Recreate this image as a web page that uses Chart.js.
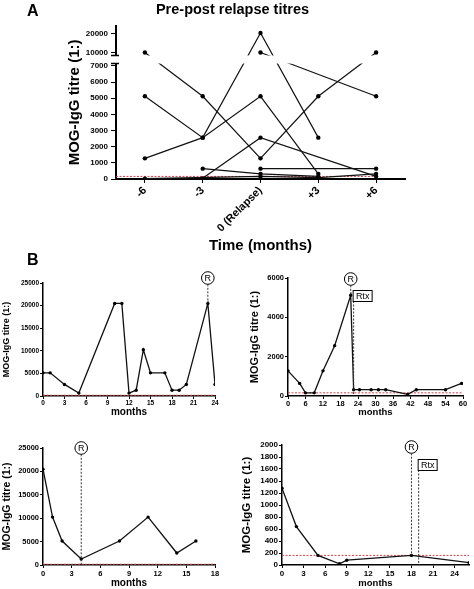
<!DOCTYPE html>
<html><head><meta charset="utf-8">
<script src="https://cdn.jsdelivr.net/npm/chart.js@4.4.1/dist/chart.umd.min.js"></script>
<style>
html,body{margin:0;padding:0;background:#fff;}
#wrap{position:relative;width:474px;height:589px;overflow:hidden;font-family:"Liberation Sans",Arial,sans-serif;}
canvas{position:absolute;}
.lab{position:absolute;font-weight:bold;font-size:16px;color:#000;line-height:1;}
</style></head><body>
<div id="wrap">
<canvas id="cA" width="474" height="255" style="left:0px;top:0px"></canvas>
<canvas id="cB1" width="237" height="167" style="left:0px;top:255px"></canvas>
<canvas id="cB2" width="237" height="167" style="left:237px;top:255px"></canvas>
<canvas id="cB3" width="237" height="167" style="left:0px;top:422px"></canvas>
<canvas id="cB4" width="237" height="167" style="left:237px;top:422px"></canvas>
<div class="lab" style="left:27px;top:3px">A</div>
<div class="lab" style="left:27px;top:252px">B</div>
</div>
<script>
// ---------- DATA ----------
const relapseMonths = ['-6', '-3', '0 (Relapse)', '+3', '+6'];
const titresP1 = [10240, 5120, 1280, 5120, 10240];
const titresP2 = [5120, 2560, 20480, 2560, null];
const titresP3 = [1280, 2560, 5120, 320, null];
const titresP4 = [null, null, 10240, null, 5120];
const titresP5 = [null, 40, 2560, null, 160];
const titresP6 = [null, 640, 320, 160, null];
const titresP7 = [null, null, 640, null, 640];
const titresP8 = [20, null, 160, 80, 320];
const yTicksA = [0, 1000, 2000, 3000, 4000, 5000, 6000, 7000, 10000, 20000];
const cutoffTitre = 160;

const case1Months = [0, 1, 3, 5, 10, 11, 12, 13, 14, 15, 17, 18, 19, 20, 23, 24];
const case1Titres = [5120, 5120, 2560, 640, 20480, 20480, 640, 1280, 10240, 5120, 5120, 1280, 1280, 2560, 20480, 2560];
const case2Months = [0, 4, 6, 9, 12, 16, 21.5, 22.5, 24.5, 28.5, 31, 33.5, 41, 44, 54, 59.5];
const case2Titres = [1280, 640, 160, 160, 1280, 2560, 5120, 320, 320, 320, 320, 320, 80, 320, 320, 640];
const case3Months = [0, 1, 2, 4, 8, 11, 14, 16];
const case3Titres = [20480, 10240, 5120, 1280, 5120, 10240, 2560, 5120];
const case4Months = [0, 2, 5, 8, 9, 18, 26];
const case4Titres = [1280, 640, 160, 20, 80, 160, 40];

const relapse1 = {month: 23, to: 20480};
const relapse2 = {month: 21.5, to: 5120};
const rtx2 = 22.5;
const relapse3 = {month: 4, to: 0};
const relapse4 = {month: 18, to: 160};
const rtx4 = 19;

// ---------- SETUP ----------
Chart.defaults.font.family = '"Liberation Sans", Arial, sans-serif';
Chart.defaults.color = '#000';

// broken axis transform for panel A (0-7000 linear, gap, 10000-20000 compressed)
function brk(v) { if (v == null) return null; return v <= 7000 ? v : 7805 + (v - 10000) * 0.1177; }

const decor = {
  id: 'decor',
  beforeDatasetsDraw(chart, args, o) {
    if (o.cutoff == null) return;
    const ctx = chart.ctx, ca = chart.chartArea, xs = chart.scales.x, ys = chart.scales.y;
    const y = ys.getPixelForValue(o.cutoff);
    const x2 = o.cutoffToLast ? xs.getPixelForValue(xs.max) : ca.right;
    ctx.save();
    ctx.strokeStyle = '#d2404f'; ctx.lineWidth = 1; ctx.setLineDash([2, 1.5]);
    ctx.beginPath(); ctx.moveTo(ca.left, y); ctx.lineTo(x2, y); ctx.stroke();
    ctx.restore();
  },
  afterDatasetsDraw(chart, args, o) {
    const ctx = chart.ctx, ca = chart.chartArea, xs = chart.scales.x, ys = chart.scales.y;
    ctx.save();
    if (o.breakBand) {
      const yTop = ys.getPixelForValue(o.breakBand[1]);
      const yBot = ys.getPixelForValue(o.breakBand[0]);
      ctx.fillStyle = '#fff';
      ctx.fillRect(ca.left - 3, yTop, ca.right - ca.left + 4, yBot - yTop);
      ctx.strokeStyle = '#000'; ctx.lineWidth = 1.5;
      ctx.beginPath();
      ctx.moveTo(ca.left - 5, yTop); ctx.lineTo(ca.left + 3, yTop);
      ctx.moveTo(ca.left - 5, yBot); ctx.lineTo(ca.left + 3, yBot);
      ctx.stroke();
    }
    if (o.relapse) {
      const x = xs.getPixelForValue(o.relapse.month);
      const cy = ca.top + o.circleDy, r = 6.3;
      const yEnd = ys.getPixelForValue(o.relapse.to);
      ctx.strokeStyle = '#333'; ctx.lineWidth = 1; ctx.setLineDash([2, 1.5]);
      ctx.beginPath(); ctx.moveTo(x, cy + r); ctx.lineTo(x, yEnd); ctx.stroke();
      ctx.setLineDash([]);
      ctx.fillStyle = '#fff'; ctx.strokeStyle = '#000';
      ctx.beginPath(); ctx.arc(x, cy, r, 0, Math.PI * 2); ctx.fill(); ctx.stroke();
      ctx.fillStyle = '#000'; ctx.font = '9px "Liberation Sans", Arial, sans-serif';
      ctx.textAlign = 'center'; ctx.textBaseline = 'middle';
      ctx.fillText('R', x, cy + 0.5);
    }
    if (o.rtx != null) {
      const x = xs.getPixelForValue(o.rtx);
      const top = ca.top + o.boxDy, w = 19, h = 11;
      ctx.strokeStyle = '#333'; ctx.lineWidth = 1; ctx.setLineDash([2, 1.5]);
      ctx.beginPath(); ctx.moveTo(x, top + h); ctx.lineTo(x, ca.bottom); ctx.stroke();
      ctx.setLineDash([]);
      ctx.fillStyle = '#fff'; ctx.strokeStyle = '#000';
      ctx.fillRect(x - 1, top, w, h); ctx.strokeRect(x - 1 + 0.5, top + 0.5, w, h);
      ctx.fillStyle = '#000'; ctx.font = '9px "Liberation Sans", Arial, sans-serif';
      ctx.textAlign = 'center'; ctx.textBaseline = 'middle';
      ctx.fillText('Rtx', x - 1 + w / 2 + 0.5, top + h / 2 + 1);
    }
    ctx.restore();
  }
};
Chart.register(decor);

const plainNum = v => String(v);

// ---------- PANEL A ----------
const patients = [titresP1, titresP2, titresP3, titresP4, titresP5, titresP6, titresP7, titresP8];
new Chart(document.getElementById('cA'), {
  type: 'line',
  data: {
    labels: relapseMonths,
    datasets: patients.map(p => ({
      data: p.map(brk), borderColor: '#111', borderWidth: 1.2, pointRadius: 2.2,
      pointBackgroundColor: '#000', pointBorderWidth: 0, spanGaps: true, tension: 0
    }))
  },
  options: {
    responsive: false, animation: false,
    layout: {padding: {left: 60, right: 69, top: 0, bottom: 0}},
    plugins: {
      legend: {display: false}, tooltip: {enabled: false},
      title: {display: true, text: 'Pre-post relapse titres', font: {size: 14.5, weight: 'bold'}, color: '#000', padding: {top: 1, bottom: 7.5}},
      decor: {cutoff: cutoffTitre, cutoffToLast: true, breakBand: [7150, 7650]}
    },
    scales: {
      x: {
        type: 'category', offset: true,
        grid: {drawOnChartArea: false, tickLength: 4, color: '#000'},
        border: {color: '#000', width: 2},
        ticks: {font: {size: 11, weight: 'bold'}, minRotation: 45, maxRotation: 45, padding: 1},
        title: {display: true, text: 'Time (months)', font: {size: 15, weight: 'bold'}, padding: {top: 0, bottom: 0}},
        afterFit: s => { s.height = 76; }
      },
      y: {
        min: 0, max: 9480,
        afterBuildTicks: s => { s.ticks = yTicksA.map(v => ({value: brk(v)})); },
        ticks: {font: {size: 8, weight: 'bold'}, padding: 3, autoSkip: false, callback: (v, i) => String(yTicksA[i])},
        grid: {drawOnChartArea: false, tickLength: 5, color: '#000'},
        border: {color: '#000', width: 2},
        title: {display: true, text: 'MOG-IgG titre (1:)', font: {size: 15, weight: 'bold'}, padding: {top: 6, bottom: 0}},
        afterFit: s => { s.width = 56; }
      }
    }
  }
});

// ---------- PANEL B ----------
function timeChart(id, months, titres, c) {
  const W = 237, H = 167, a = c.area;
  const yLH = c.yTitleSize * 1.2, xLH = c.xTitleSize * 1.2;
  return new Chart(document.getElementById(id), {
    type: 'line',
    data: {datasets: [{
      data: months.map((m, i) => ({x: m, y: titres[i]})),
      borderColor: '#111', borderWidth: 1.3, pointRadius: 1.7,
      pointBackgroundColor: '#000', pointBorderWidth: 0, tension: 0
    }]},
    options: {
      responsive: false, animation: false,
      layout: {padding: {left: 0, right: W - a.right, top: a.top, bottom: 0}},
      plugins: {
        legend: {display: false}, tooltip: {enabled: false},
        decor: {cutoff: cutoffTitre, relapse: c.relapse, circleDy: c.circleDy, rtx: c.rtx, boxDy: c.boxDy}
      },
      scales: {
        x: {
          type: 'linear', min: 0, max: c.xMax,
          afterBuildTicks: s => { s.ticks = s.ticks.filter(t => t.value % c.xStep === 0); },
          ticks: {stepSize: c.xStep, font: {size: c.tickSize, weight: 'bold'}, maxRotation: 0, autoSkip: false, padding: c.xTickPad, callback: plainNum},
          grid: {drawOnChartArea: false, tickLength: 3, color: '#000'},
          border: {color: '#000', width: 1.5},
          title: {display: true, text: 'months', font: {size: c.xTitleSize, weight: 'bold'}, padding: {top: 0, bottom: Math.max(0, H - c.xTitleY - xLH / 2)}},
          afterFit: s => { s.height = H - a.bottom; }
        },
        y: {
          min: 0, max: c.yMax,
          ticks: {stepSize: c.yStep, font: {size: c.tickSize, weight: 'bold'}, autoSkip: false, padding: 1, callback: plainNum},
          grid: {drawOnChartArea: false, tickLength: 3, color: '#000'},
          border: {color: '#000', width: 1.5},
          title: {display: true, text: 'MOG-IgG titre (1:)', font: {size: c.yTitleSize, weight: 'bold'}, padding: {top: Math.max(0, c.yTitleX - yLH / 2), bottom: 0}},
          afterFit: s => { s.width = a.left; }
        }
      }
    }
  });
}

timeChart('cB1', case1Months, case1Titres, {
  area: {left: 43, right: 215, top: 28, bottom: 141},
  xMax: 24, xStep: 3, yMax: 25000, yStep: 5000,
  tickSize: 6.5, xTickPad: 0, xTitleSize: 10, xTitleY: 157, yTitleSize: 9, yTitleX: 7,
  relapse: relapse1, circleDy: -5
});
timeChart('cB2', case2Months, case2Titres, {
  area: {left: 51, right: 226, top: 23, bottom: 141},
  xMax: 60, xStep: 6, yMax: 6000, yStep: 2000,
  tickSize: 7.5, xTickPad: 0, xTitleSize: 9.5, xTitleY: 157, yTitleSize: 11, yTitleX: 18,
  relapse: relapse2, circleDy: 1, rtx: rtx2, boxDy: 12
});
timeChart('cB3', case3Months, case3Titres, {
  area: {left: 43, right: 215, top: 26, bottom: 143},
  xMax: 18, xStep: 3, yMax: 25000, yStep: 5000,
  tickSize: 7.5, xTickPad: 1, xTitleSize: 10, xTitleY: 161, yTitleSize: 10.5, yTitleX: 7.5,
  relapse: relapse3, circleDy: 0
});
timeChart('cB4', case4Months, case4Titres, {
  area: {left: 45, right: 232, top: 23, bottom: 143},
  xMax: 26, xStep: 3, yMax: 2000, yStep: 200,
  tickSize: 8, xTickPad: 1, xTitleSize: 9.5, xTitleY: 162, yTitleSize: 11.5, yTitleX: 10,
  relapse: relapse4, circleDy: 2, rtx: rtx4, boxDy: 14
});
</script>
</body></html>
